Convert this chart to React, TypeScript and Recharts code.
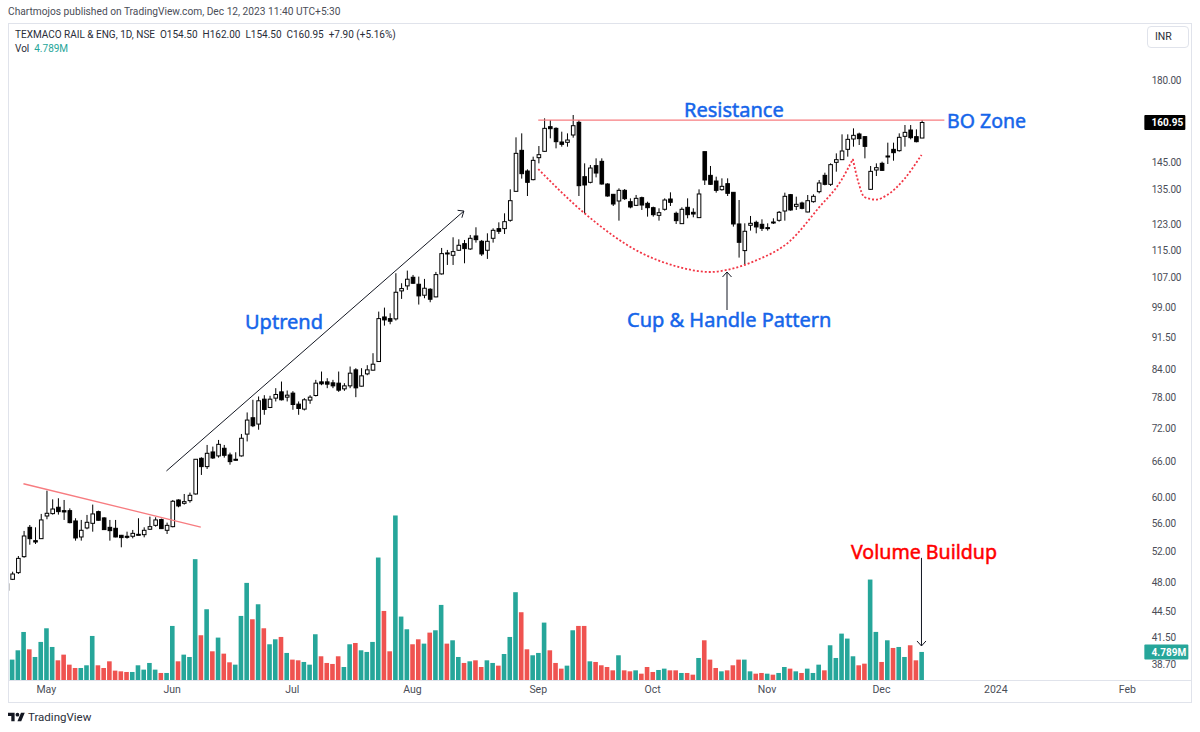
import { Bar, ComposedChart, Line, ReferenceDot, ReferenceLine, XAxis, YAxis } from 'recharts'

const opens = [
  47.0,
  48.37, 49.23, 51.34, 55.46, 53.55, 53.83, 57.14, 57.5, 58.47, 57.95,
  57.95, 56.4, 54.07, 55.37, 56.05, 57.8, 56.85, 55.46, 55.32, 54.31,
  54.17, 54.17, 54.45, 54.4, 55.18, 55.75, 56.6, 55.03, 55.56, 59.6,
  59.08, 59.5, 60.55, 66.51, 65.07, 67.63, 66.93, 68.29, 67.1, 66.34,
  66.93, 70.88, 74.0, 72.78, 77.71, 76.03, 77.92, 79.22, 78.12, 78.95,
  76.7, 75.7, 77.51, 78.46, 81.33, 81.33, 81.12, 81.05, 79.85, 80.48,
  83.94, 80.41, 83.06, 83.87, 85.8, 96.48, 96.06, 95.99, 103.33, 104.7,
  107.1, 105.15, 102.16, 103.78, 101.71, 108.05, 114.18, 113.48, 114.99, 117.02,
  115.39, 119.4, 117.74, 114.99, 118.67, 121.73, 121.73, 124.42, 134.28, 149.58,
  141.66, 138.47, 146.72, 149.19, 159.19, 158.49, 152.9, 152.76, 155.74, 161.02,
  139.56, 137.5, 143.67, 145.31, 136.9, 133.23, 130.91, 134.63, 130.68, 129.42,
  132.06, 130.11, 128.63, 126.06, 128.08, 131.6, 126.73, 123.33, 128.75, 127.07,
  125.3, 149.06, 140.05, 137.98, 134.87, 137.02, 133.93, 123.23, 114.89, 122.8,
  123.76, 123.12, 122.05, 123.87, 124.42, 127.51, 133.12, 129.08, 130.22, 127.18,
  130.68, 134.16, 140.05, 136.78, 144.93, 145.95, 149.97, 154.11, 156.15, 155.06,
  134.99, 142.03, 144.55, 147.37, 149.97, 149.45, 155.2, 157.8, 155.06, 154.5,
]
const highs = [
  47.9,
  49.35, 51.43, 54.94, 55.8, 55.46, 57.45, 61.08, 59.7, 59.87, 59.6,
  58.3, 56.8, 56.55, 57.3, 58.88, 57.95, 56.95, 56.55, 56.55, 54.36,
  54.83, 55.08, 56.8, 55.46, 57.04, 56.95, 56.75, 56.15, 59.6, 59.7,
  60.55, 60.77, 66.34, 66.69, 68.89, 68.59, 69.8, 68.89, 67.51, 67.57,
  70.91, 75.04, 77.58, 78.26, 78.53, 78.4, 79.99, 81.4, 79.5, 79.36,
  77.24, 77.92, 78.53, 81.76, 83.57, 82.12, 81.76, 83.57, 81.05, 84.68,
  84.31, 84.31, 84.98, 87.7, 97.85, 98.88, 97.42, 108.24, 105.43, 109.0,
  107.76, 107.29, 106.64, 104.05, 108.62, 115.69, 115.09, 118.98, 118.36, 118.15,
  119.71, 122.16, 118.15, 120.24, 121.83, 123.76, 126.73, 134.99, 154.79, 156.42,
  142.28, 147.11, 151.29, 162.72, 162.01, 158.91, 157.11, 156.42, 164.16, 162.01,
  144.55, 143.92, 146.46, 146.46, 137.14, 133.35, 135.34, 135.1, 131.83, 133.0,
  132.41, 130.68, 128.97, 128.41, 131.83, 133.93, 127.29, 128.75, 131.83, 128.41,
  134.99, 149.06, 143.54, 139.56, 138.95, 138.95, 134.04, 131.25, 123.44, 125.85,
  124.31, 124.75, 123.44, 125.08, 127.51, 133.81, 133.35, 132.41, 130.68, 132.99,
  133.23, 138.35, 141.04, 144.55, 148.4, 156.01, 156.01, 158.49, 156.7, 155.33,
  143.54, 144.55, 145.18, 152.63, 152.63, 156.42, 159.89, 159.89, 158.08, 162,
]
const lows = [
  46.8,
  48.28, 49.05, 51.2, 52.98, 53.08, 53.83, 56.65, 57.35, 57.35, 56.55,
  56.05, 53.55, 53.55, 55.18, 54.83, 56.45, 55.08, 53.55, 54.02, 52.62,
  53.83, 53.88, 54.36, 54.02, 55.08, 55.56, 55.22, 54.5, 55.46, 58.47,
  58.88, 59.18, 60.45, 63.66, 64.67, 66.4, 66.63, 66.63, 65.4, 66.1,
  66.81, 69.53, 72.2, 71.7, 74.58, 75.9, 77.24, 77.44, 77.24, 75.57,
  74.58, 75.44, 76.77, 78.26, 80.62, 79.99, 79.99, 79.22, 79.43, 79.99,
  78.12, 80.34, 82.77, 83.8, 85.8, 94.3, 94.64, 95.57, 101.17, 103.6,
  105.24, 99.68, 101.35, 100.29, 101.62, 107.86, 110.63, 110.63, 114.79, 111.12,
  115.09, 117.33, 113.29, 112.4, 117.33, 120.03, 120.03, 123.98, 134.16, 138.84,
  132.64, 138.23, 144.55, 149.06, 154.38, 150.37, 151.03, 151.03, 154.65, 132.64,
  126.73, 137.14, 139.31, 136.66, 132.41, 129.2, 124.31, 131.25, 128.41, 129.2,
  127.85, 125.63, 125.63, 124.31, 127.62, 129.2, 123.22, 123.22, 125.08, 125.41,
  125.19, 136.54, 136.54, 133.81, 134.51, 132.64, 122.37, 112.79, 110.83, 121.09,
  120.24, 120.98, 121.09, 123.22, 123.98, 124.31, 127.62, 127.85, 128.08, 127.07,
  130.34, 133.58, 136.42, 136.18, 141.41, 145.82, 147.11, 151.03, 151.69, 146.46,
  134.75, 139.8, 141.66, 144.3, 145.56, 149.06, 151.03, 153.97, 152.76, 154.5,
]
const closes = [
  47.8,
  49.05, 51.11, 54.21, 53.83, 53.36, 56.55, 57.55, 58.2, 57.8, 57.75,
  56.15, 53.93, 55.03, 56.2, 57.45, 56.5, 55.13, 54.98, 54.07, 53.98,
  54.02, 54.59, 54.36, 55.03, 55.56, 56.55, 55.27, 55.75, 59.4, 58.67,
  59.34, 60.34, 66.34, 65.07, 67.39, 66.57, 69.0, 67.04, 65.93, 66.22,
  70.11, 73.55, 72.46, 77.38, 75.64, 77.71, 78.67, 77.58, 78.53, 76.63,
  75.83, 77.58, 78.12, 81.05, 80.91, 80.84, 80.48, 79.57, 80.48, 83.21,
  80.06, 82.63, 83.94, 85.2, 96.06, 95.73, 95.4, 102.96, 103.96, 106.55,
  105.43, 101.98, 104.05, 101.08, 107.86, 113.98, 113.88, 114.58, 116.51, 115.49,
  118.67, 118.25, 113.88, 117.74, 121.19, 120.87, 123.98, 131.02, 148.4, 140.67,
  137.5, 145.69, 147.88, 158.49, 158.35, 153.03, 151.96, 153.7, 159.6, 136.3,
  136.54, 142.78, 140.91, 136.9, 132.64, 129.88, 134.63, 131.71, 128.86, 131.83,
  129.53, 128.63, 126.28, 126.95, 131.25, 130.45, 124.31, 128.08, 126.28, 126.5,
  133.35, 138.35, 136.78, 134.63, 136.06, 133.58, 123.23, 117.43, 120.88, 123.44,
  122.27, 121.83, 121.73, 123.55, 127.07, 132.53, 127.85, 129.77, 128.41, 131.02,
  132.53, 137.26, 136.78, 144.05, 145.95, 149.32, 153.97, 155.6, 154.25, 151.16,
  141.53, 142.91, 141.91, 146.98, 148.66, 154.79, 156.83, 154.65, 153.03, 160.95,
]
// millions of shares, first session onwards
const volumes = [
  3.48, 5.07, 8.2, 5.24, 3.93, 6.5, 8.83, 5.64, 3.36, 4.33,
  2.62, 2.05, 2.05, 2.51, 7.52, 2.51, 2.05, 3.19, 1.6, 1.48,
  1.37, 1.37, 2.51, 1.77, 2.91, 1.77, 1.2, 1.2, 9.23, 3.19,
  4.33, 3.93, 20.63, 7.64, 12.08, 4.9, 7.24, 4.5, 3.02, 2.62,
  10.94, 16.58, 10.37, 12.93, 8.83, 6.1, 6.95, 7.35, 4.62, 3.48,
  3.36, 3.08, 2.62, 7.81, 4.05, 2.91, 2.74, 4.05, 2.22, 6.1,
  6.32, 5.07, 4.79, 6.5, 20.91, 11.79, 4.9, 28.09, 10.83, 8.66,
  6.1, 6.95, 6.21, 8.09, 8.49, 12.82, 6.21, 6.78, 3.93, 2.91,
  3.19, 3.36, 2.22,
  3.36, 2.91, 2.45, 4.44, 7.35, 14.99, 11.57, 5.24, 4.22, 4.62,
  9.8, 5.07, 2.91, 1.94, 2.45, 8.49, 9.23, 9.23, 3.19, 3.08,
  2.51, 2.22, 1.65, 4.22, 1.65, 1.48, 1.65, 1.08, 2.22, 1.37,
  1.71, 1.94, 1.65, 1.65, 1.2, 1.2, 0.91, 3.76, 6.78, 3.48,
  2.05, 1.48, 1.65, 2.51, 3.48, 3.48, 1.48, 1.08, 1.2, 1.08,
  0.91, 1.2, 2.22, 1.94, 1.48, 1.2, 1.94, 1.2, 2.62, 1.65,
  5.93, 3.76, 7.92, 7.07, 4.05, 2.51, 2.79, 17.15, 8.21, 3.08,
  6.78, 5.47, 5.64, 3.93, 5.93, 3.36, 4.79,
]
const volumeUp = [
  1, 1, 1, 0, 1, 1, 1, 1, 0, 0,
  0, 0, 1, 1, 1, 0, 0, 0, 0, 0,
  0, 1, 1, 1, 1, 1, 0, 1, 1, 0,
  1, 1, 1, 0, 1, 0, 1, 0, 0, 1,
  1, 1, 0, 1, 0, 1, 1, 0, 1, 0,
  0, 1, 1, 1, 0, 0, 0, 0, 1, 1,
  0, 1, 1, 1, 1, 0, 0, 1, 1, 1,
  0, 0, 1, 0, 1, 1, 0, 1, 1, 0,
  1, 0, 0,
  1, 1, 0, 1, 1, 1, 0, 0, 1, 1,
  1, 0, 0, 0, 1, 1, 0, 0, 1, 0,
  0, 0, 0, 1, 0, 0, 1, 0, 0, 0,
  1, 1, 0, 0, 1, 0, 0, 1, 0, 0,
  0, 1, 0, 0, 0, 1, 1, 0, 0, 1,
  0, 1, 1, 0, 1, 0, 1, 1, 1, 0,
  1, 1, 1, 1, 1, 0, 0, 1, 1, 0,
  1, 0, 1, 1, 0, 0, 1,
]

const priceTicks = [180, 145, 135, 123, 115, 107, 99, 91.5, 84, 78, 72, 66, 60, 56, 52, 48, 44.5, 41.5, 38.7]
const timeTicks = [6, 28, 49, 70, 92, 112, 132, 152, 172, 195]
const timeLabels = ['May', 'Jun', 'Jul', 'Aug', 'Sep', 'Oct', 'Nov', 'Dec', '2024', 'Feb']

const cupSessions = [92, 100, 110, 116, 122, 125, 130, 136, 141, 145, 147]
const cupPrices = [142.4, 126.9, 114.2, 110.3, 108.6, 109.2, 111.9, 117.8, 128.5, 138.3, 146.2]
const handleSessions = [147, 148, 149, 151, 153, 156, 159]
const handlePrices = [146.2, 137.3, 132.3, 131.4, 133.0, 138.7, 147.8]

const LAST_CLOSE = 160.95
const LAST_VOLUME = 4.789
const ROWS = 199

const UP = '#26a69a'
const DOWN = '#ef5350'
const PINK = '#f77c80'
const BLUE = '#1565ea'
const FONT = '"Noto Sans", sans-serif'
const SMALL_FONT = 'Roboto, sans-serif'
const AXIS_TEXT = '#4a4d57'

// first row is the session cut off by the left edge, the last ones are empty future dates
const rows = Array.from({ length: ROWS }, (_, i) => {
  const session = i - 1
  const cupAt = cupSessions.indexOf(session)
  const handleAt = handleSessions.indexOf(session)
  return {
    session,
    open: opens[i],
    high: highs[i],
    low: lows[i],
    close: closes[i],
    range: i < opens.length ? [lows[i], highs[i]] : null,
    volume: session >= 0 ? volumes[session] ?? null : null,
    volumeUp: volumeUp[session],
    cup: cupAt >= 0 ? cupPrices[cupAt] : null,
    handle: handleAt >= 0 ? handlePrices[handleAt] : null,
  }
})

function Candle({ x, y, width, height, payload }: any) {
  if (!payload || !payload.range) return null
  const { open, high, low, close } = payload
  const toY = (p: number) => y + (height * Math.log(high / p)) / Math.log(high / low)
  const cx = x + width / 2 + 0.5
  const rising = close >= open
  const top = toY(Math.max(open, close))
  const bottom = toY(Math.min(open, close))
  return (
    <g>
      <line x1={cx} x2={cx} y1={y} y2={y + height} stroke="#000" strokeWidth={1} />
      <rect
        x={cx - 1.8}
        y={top}
        width={3.6}
        height={Math.max(bottom - top, 1)}
        fill={rising ? '#fff' : '#000'}
        stroke="#000"
        strokeWidth={1}
      />
    </g>
  )
}

function VolumeBar({ x, y, width, height, payload }: any) {
  if (!payload || payload.volume == null) return null
  return <rect x={x + width / 2 - 2.3} y={y} width={4.6} height={height} fill={payload.volumeUp ? UP : DOWN} />
}

const head = (d: string) => ({ cx, cy }: any) => (
  <path d={d} transform={`translate(${cx} ${cy})`} fill="none" stroke="#131722" strokeWidth={1} />
)

const priceTag = (text: string, fill: string, w: number) => ({ cx, cy }: any) => (
  <g>
    <rect x={cx + 5.5} y={cy - 7.5} width={w} height={15} rx={1} fill={fill} />
    <text
      x={cx + 12.7}
      y={cy + 3.6}
      fill="#fff"
      fontFamily={SMALL_FONT}
      fontSize={10}
      fontWeight={700}
    >
      {text}
    </text>
  </g>
)

function Note({ left, top, size, color, children }: any) {
  return (
    <div
      style={{
        position: 'absolute',
        left,
        top,
        fontFamily: FONT,
        fontSize: size,
        lineHeight: '24px',
        color,
        whiteSpace: 'pre',
        WebkitTextStroke: `0.5px ${color}`,
      }}
    >
      {children}
    </div>
  )
}

function Small({ left, top, size = 10, color = '#2a2e39', children }: any) {
  return (
    <div
      style={{
        position: 'absolute',
        left,
        top,
        fontFamily: SMALL_FONT,
        fontSize: size,
        lineHeight: '14px',
        color,
        whiteSpace: 'pre',
      }}
    >
      {children}
    </div>
  )
}

export default function App() {
  return (
    <div style={{ position: 'absolute', left: 0, top: 0, width: 1200, height: 732, background: '#fff', overflow: 'hidden' }}>
      <ComposedChart
        width={1200}
        height={732}
        data={rows}
        margin={{ top: 24, right: 10.3, bottom: 30, left: 3.42 }}
        barCategoryGap={0}
      >
        <XAxis
          dataKey="session"
          type="category"
          ticks={timeTicks}
          interval={0}
          tickFormatter={(v: number) => timeLabels[timeTicks.indexOf(v)]}
          axisLine={false}
          tickLine={false}
          tickSize={0}
          tickMargin={6}
          height={22}
          tick={{ fill: AXIS_TEXT, fontSize: 10.5, fontFamily: SMALL_FONT }}
        />
        <XAxis xAxisId="vol" dataKey="session" type="category" hide />
        <YAxis
          yAxisId="price"
          orientation="right"
          scale="log"
          domain={[37.11, 208.58]}
          allowDataOverflow
          ticks={priceTicks}
          interval={0}
          tickFormatter={(v: number) => v.toFixed(2)}
          axisLine={false}
          tickLine={false}
          tickSize={0}
          tickMargin={10}
          width={48}
          tick={{ fill: AXIS_TEXT, fontSize: 10, fontFamily: SMALL_FONT, letterSpacing: -0.2 }}
        />
        <YAxis yAxisId="volume" orientation="right" domain={[0, 112]} hide />

        <Bar
          xAxisId="vol"
          yAxisId="volume"
          dataKey="volume"
          shape={VolumeBar}
          isAnimationActive={false}
        />
        <Bar yAxisId="price" dataKey="range" shape={Candle} isAnimationActive={false} />
        <Line
          yAxisId="price"
          dataKey="cup"
          type="monotone"
          connectNulls
          dot={false}
          stroke="#f23645"
          strokeWidth={1.8}
          strokeDasharray="2 2"
          isAnimationActive={false}
        />
        <Line
          yAxisId="price"
          dataKey="handle"
          type="monotone"
          connectNulls
          dot={false}
          stroke="#f23645"
          strokeWidth={1.8}
          strokeDasharray="2 2"
          isAnimationActive={false}
        />

        <ReferenceLine
          yAxisId="price"
          ifOverflow="visible"
          stroke={PINK}
          strokeWidth={1.3}
          segment={[{ x: 92, y: 162 }, { x: 163, y: 162 }]}
        />
        <ReferenceLine
          yAxisId="price"
          ifOverflow="visible"
          stroke={PINK}
          strokeWidth={1.3}
          segment={[{ x: 2, y: 62.2 }, { x: 33, y: 55.5 }]}
        />
        <ReferenceLine
          yAxisId="price"
          ifOverflow="visible"
          stroke="#131722"
          strokeWidth={1}
          segment={[{ x: 27, y: 64.33 }, { x: 79, y: 127.5 }]}
        />
        <ReferenceLine
          yAxisId="price"
          ifOverflow="visible"
          stroke="#131722"
          strokeWidth={1}
          segment={[{ x: 125, y: 108.6 }, { x: 125, y: 98.26 }]}
        />
        <ReferenceLine
          yAxisId="volume"
          ifOverflow="visible"
          stroke="#131722"
          strokeWidth={1}
          segment={[{ x: 159, y: 5.81 }, { x: 159, y: 20.85 }]}
        />
        <ReferenceDot yAxisId="price" x={79} y={127.5} ifOverflow="visible" shape={head('M-6.3 -0.7L0 0L-2 6.7')} />
        <ReferenceDot yAxisId="price" x={125} y={108.6} ifOverflow="visible" shape={head('M-4.5 5L0 0L4.5 5')} />
        <ReferenceDot yAxisId="volume" x={159} y={5.81} ifOverflow="visible" shape={head('M-4.5 -5L0 0L4.5 -5')} />
        <ReferenceDot
          yAxisId="price"
          x={197}
          y={LAST_CLOSE}
          ifOverflow="visible"
          shape={priceTag(LAST_CLOSE.toFixed(2), '#000', 41)}
        />
        <ReferenceDot
          yAxisId="volume"
          x={197}
          y={LAST_VOLUME}
          ifOverflow="visible"
          shape={priceTag(`${LAST_VOLUME}M`, UP, 44)}
        />
      </ComposedChart>

      {/* hides the part of the first candle left of the pane */}
      <div style={{ position: 'absolute', left: 0, top: 0, width: 8, height: 732, background: '#fff' }} />
      <div
        style={{
          position: 'absolute',
          left: 8,
          top: 23,
          width: 1182,
          height: 678,
          border: '1px solid #e0e3eb',
          pointerEvents: 'none',
        }}
      />
      <div style={{ position: 'absolute', left: 8, top: 680, width: 1183, height: 1, background: '#e0e3eb' }} />

      <Small left={8} top={5} size={10.2} color="#4a4d57">
        Chartmojos published on TradingView.com, Dec 12, 2023 11:40 UTC+5:30
      </Small>
      <Small left={15} top={28}>
        {'TEXMACO RAIL & ENG, 1D, NSE  O154.50  H162.00  L154.50  C160.95  +7.90 (+5.16%)'}
      </Small>
      <Small left={15} top={42}>
        Vol  <span style={{ color: UP }}>4.789M</span>
      </Small>

      <div
        style={{
          position: 'absolute',
          left: 1147,
          top: 26,
          width: 33,
          height: 20,
          border: '1px solid #e0e3eb',
          borderRadius: 4,
          fontFamily: SMALL_FONT,
          fontSize: 10.5,
          lineHeight: '20px',
          color: '#2a2e39',
          paddingLeft: 7,
        }}
      >
        INR
      </div>

      <Note left={684} top={98} size={20} color={BLUE}>Resistance</Note>
      <Note left={947} top={109} size={19.5} color={BLUE}>BO Zone</Note>
      <Note left={245} top={310} size={20} color={BLUE}>Uptrend</Note>
      <Note left={627} top={308} size={20} color={BLUE}>Cup &amp; Handle Pattern</Note>
      <Note left={851} top={540} size={19.6} color="#ff0000">Volume Buildup</Note>

      <svg
        style={{ position: 'absolute', left: 8, top: 712 }}
        width={17}
        height={10}
        viewBox="0 3 36 20"
      >
        <path d="M14 22H7V11H0V4h14v18zM28 22h-8l7.5-18h8L28 22z" fill="#131722" />
        <circle cx={20} cy={8} r={4} fill="#131722" />
      </svg>
      <Small left={28} top={710} size={11.5} color="#2a2e39">TradingView</Small>
    </div>
  )
}
